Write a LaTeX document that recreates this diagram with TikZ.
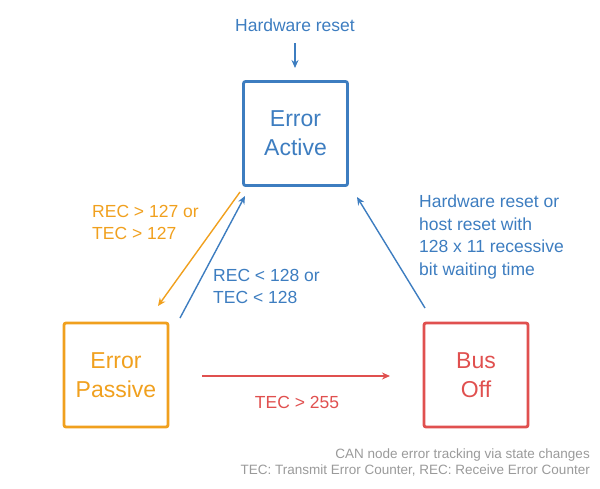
\documentclass[tikz,border=0pt]{standalone}
\usepackage{fontspec}
\setmainfont{Liberation Sans}
\usetikzlibrary{arrows.meta}
\definecolor{cblue}{HTML}{3D7DC0}
\definecolor{corange}{HTML}{F0A01E}
\definecolor{cred}{HTML}{E0504F}
\definecolor{cgray}{HTML}{9A9A9A}
\begin{document}
\begin{tikzpicture}[x=1pt,y=-1pt,
  statebox/.style={draw=#1,text=#1,line width=2.8pt,minimum width=104pt,minimum height=104pt,rounded corners=2pt,align=center,font=\fontsize{23}{29}\selectfont},
  lbl/.style={text=#1,align=left,font=\fontsize{17.5}{22.5}\selectfont,inner sep=0pt},
  arr/.style={draw=#1,line width=1.4pt,-{Stealth[length=8pt,width=7pt]}}]
\useasboundingbox (0,0) rectangle (600,488);
\node[statebox=cblue] (act) at (295.5,133.5) {Error\\Active};
\node[statebox=corange] (pas) at (116,375) {Error\\Passive};
\node[statebox=cred] (bus) at (476,375) {Bus\\Off};
\node[lbl=cblue,anchor=center] (hw) at (295,25) {Hardware reset};
\coordinate (hwa) at (295,43);
\coordinate (hwb) at (295,68);
\draw[arr=cblue] (hwa) -- (hwb);
\coordinate (o1) at (240,192); \coordinate (o2) at (158,306);
\draw[arr=corange] (o1) -- (o2);
\coordinate (b1) at (180,318); \coordinate (b2) at (245,196);
\draw[arr=cblue] (b1) -- (b2);
\coordinate (c1) at (425,308); \coordinate (c2) at (357,197);
\draw[arr=cblue] (c1) -- (c2);
\coordinate (r1) at (202,376); \coordinate (r2) at (390,376);
\draw[arr=cred] (r1) -- (r2);
\node[lbl=corange,anchor=north west] (l1) at (92,205) {REC > 127 or\\TEC > 127};
\node[lbl=cblue,anchor=north west] (l2) at (213,269) {REC < 128 or\\TEC < 128};
\node[lbl=cblue,anchor=north west] (l3) at (419,195) {Hardware reset or\\host reset with\\128 x 11 recessive\\bit waiting time};
\node[lbl=cred,anchor=center] (l4) at (297,402) {TEC > 255};
\node[text=cgray,align=right,anchor=north east,inner sep=0pt,font=\fontsize{13.5}{16}\selectfont] (cap) at (590,449) {CAN node error tracking via state changes\\TEC: Transmit Error Counter, REC: Receive Error Counter};
\end{tikzpicture}
\end{document}
